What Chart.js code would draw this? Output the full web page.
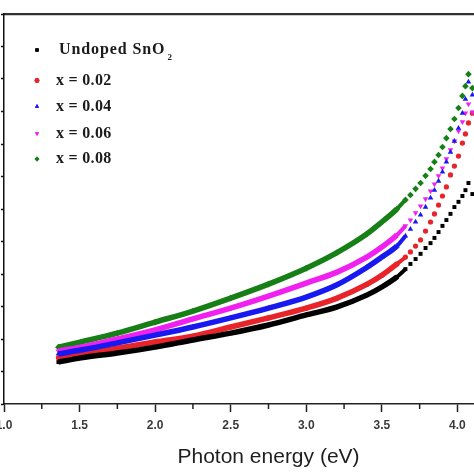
<!DOCTYPE html>
<html><head><meta charset="utf-8">
<script src="https://cdn.jsdelivr.net/npm/chart.js@4.4.1/dist/chart.umd.min.js"></script>
<style>
html,body{margin:0;padding:0;overflow:hidden;background:#fff;width:474px;height:474px;}
#wrap{position:relative;width:537px;height:474px;}
</style></head><body>
<div id="wrap"><canvas id="c" width="537" height="474"></canvas></div>
<script>
// Photon energy (eV)
const energy = [1.36,1.51,1.75,2.00,2.25,2.50,2.75,3.00,3.20,3.40,3.50,3.60,3.656,3.689,3.723,3.756,3.789,3.822,3.848,3.875,3.901,3.927,3.954,3.980,4.007,4.033,4.053,4.073,4.099];
const undoped = [1.29,1.42,1.57,1.75,1.97,2.18,2.43,2.74,2.98,3.35,3.60,3.91,4.15,4.31,4.46,4.62,4.80,4.95,5.11,5.29,5.48,5.66,5.85,6.06,6.22,6.40,6.58,6.80,6.46];
const x002 = [1.42,1.54,1.72,1.91,2.09,2.37,2.65,2.95,3.25,3.68,3.96,4.31,4.52,4.68,4.86,5.05,5.32,5.60,5.85,6.12,6.40,6.68,7.05,7.32,7.63,8.03,8.31,8.65,8.95];
const x004 = [1.54,1.66,1.88,2.12,2.37,2.65,2.95,3.29,3.66,4.20,4.52,4.86,5.17,5.38,5.60,5.82,6.06,6.34,6.58,6.86,7.14,7.45,7.75,8.09,8.49,8.95,9.38,9.91,9.51];
const x006 = [1.63,1.75,2.00,2.28,2.62,2.95,3.32,3.72,4.05,4.52,4.83,5.20,5.48,5.66,5.88,6.09,6.31,6.55,6.77,7.02,7.26,7.54,7.82,8.09,8.40,8.68,8.95,9.23,8.98];
const x008 = [1.75,1.91,2.18,2.52,2.86,3.26,3.69,4.18,4.65,5.23,5.60,6.00,6.28,6.43,6.62,6.80,7.02,7.23,7.45,7.66,7.91,8.18,8.46,8.77,9.11,9.48,9.78,10.15,9.72];
const seriesLabels = ['Undoped SnO\u2082','x = 0.02','x = 0.04','x = 0.06','x = 0.08'];
const xTickValues = [1.0,1.5,2.0,2.5,3.0,3.5,4.0,4.5];
const xMinorTicks = [1.25,1.75,2.25,2.75,3.25,3.75,4.25];
const xTitle = 'Photon energy (eV)';

const colors = ['#000000','#e8232a','#1818f0','#f020f0','#168016'];
const styles = ['rect','circle','triangle','triangle','rectRot'];
const rotations = [0,0,0,180,0];
const radii = [2.8,2.6,3.2,3.2,3.3];
const orders = [1,5,2,3,4];
const values = [undoped,x002,x004,x006,x008];

const datasets = values.map((vals,i)=>({
  label: seriesLabels[i],
  data: energy.map((e,k)=>({x:e,y:vals[k]})),
  showLine: true,
  borderColor: colors[i],
  borderWidth: 5.5,
  cubicInterpolationMode: 'monotone',
  segment: {
    borderColor: ctx => ctx.p0.parsed.x > 3.62 ? 'rgba(0,0,0,0)' : undefined,
    borderWidth: ctx => ctx.p0.parsed.x > 3.55 ? 4 : undefined
  },
  pointStyle: styles[i],
  rotation: rotations[i],
  pointRadius: radii[i],
  pointBackgroundColor: colors[i],
  pointBorderColor: colors[i],
  pointBorderWidth: 0,
  order: orders[i]
}));

const legendRowsY = [50, 80.5, 106.5, 133.5, 159];
const extras = {
  id: 'extras',
  afterDraw(chart){
    const ctx = chart.ctx, xs = chart.scales.x, a = chart.chartArea;
    ctx.save();
    ctx.strokeStyle = '#222'; ctx.lineWidth = 1.5;
    xMinorTicks.forEach(v=>{
      const px = xs.getPixelForValue(v);
      ctx.beginPath(); ctx.moveTo(px, a.bottom); ctx.lineTo(px, a.bottom+5); ctx.stroke();
    });
    // legend
    ctx.textBaseline = 'middle';
    seriesLabels.forEach((lab,i)=>{
      const y = legendRowsY[i];
      ctx.fillStyle = colors[i];
      Chart.helpers.drawPoint(ctx, {pointStyle: styles[i], rotation: rotations[i], radius: 2.4, borderWidth: 0}, 37, y);
      ctx.fill();
      ctx.fillStyle = '#1b1b1b';
      ctx.font = 'bold 16px "Liberation Serif", "Times New Roman", serif';
      const parts = lab.split('\u2082');
      const sp = parts.length > 1 ? 0.9 : 0.3;
      if ('letterSpacing' in ctx) ctx.letterSpacing = sp + 'px';
      const x0 = parts.length > 1 ? 59 : 56;
      ctx.fillText(parts[0], x0, y);
      if (parts.length > 1) {
        const w = ctx.measureText(parts[0]).width;
        ctx.font = 'bold 9px "Liberation Serif", "Times New Roman", serif';
        ctx.fillText('2', x0 + w + 2, y + 8);
      }
      if ('letterSpacing' in ctx) ctx.letterSpacing = '0px';
    });
    ctx.restore();
  }
};

new Chart(document.getElementById('c'), {
  type: 'scatter',
  data: { datasets },
  options: {
    responsive: false,
    animation: false,
    layout: { padding: { top: 14, left: 0, right: 4, bottom: 0 } },
    plugins: { legend: { display: false }, tooltip: { enabled: false } },
    scales: {
      x: {
        type: 'linear', min: 1.0, max: 4.5,
        afterBuildTicks: s => { s.ticks = xTickValues.map(v=>({value:v})); },
        afterFit: s => { s.paddingLeft = 0; s.paddingRight = 0; s.height = 70; },
        grid: { drawOnChartArea: false, drawTicks: true, tickLength: 8, tickColor: '#222', tickWidth: 1.5 },
        border: { color: '#222', width: 1.5 },
        ticks: { padding: 6, color: '#3a3a3a', font: { family: '"Liberation Sans", Arial, sans-serif', size: 12, weight: 'bold' }, maxRotation: 0, autoSkip: false, callback: v => Number(v).toFixed(1) },
        title: { display: true, text: xTitle, color: '#1e1e1e', font: { family: '"Liberation Sans", Arial, sans-serif', size: 21 }, padding: { top: 8, bottom: 4.4 } }
      },
      x2: {
        type: 'linear', position: 'top', min: 1.0, max: 4.5,
        ticks: { display: false },
        grid: { drawOnChartArea: false, drawTicks: false },
        border: { color: '#333', width: 2.2 }
      },
      y: {
        type: 'linear', min: 0, max: 12,
        ticks: { display: false, stepSize: 1 },
        grid: { drawOnChartArea: false, drawTicks: true, tickLength: 3, tickColor: '#111', tickWidth: 1.5 },
        border: { color: '#111', width: 1.5 }
      }
    }
  },
  plugins: [extras]
});
</script>
</body></html>
